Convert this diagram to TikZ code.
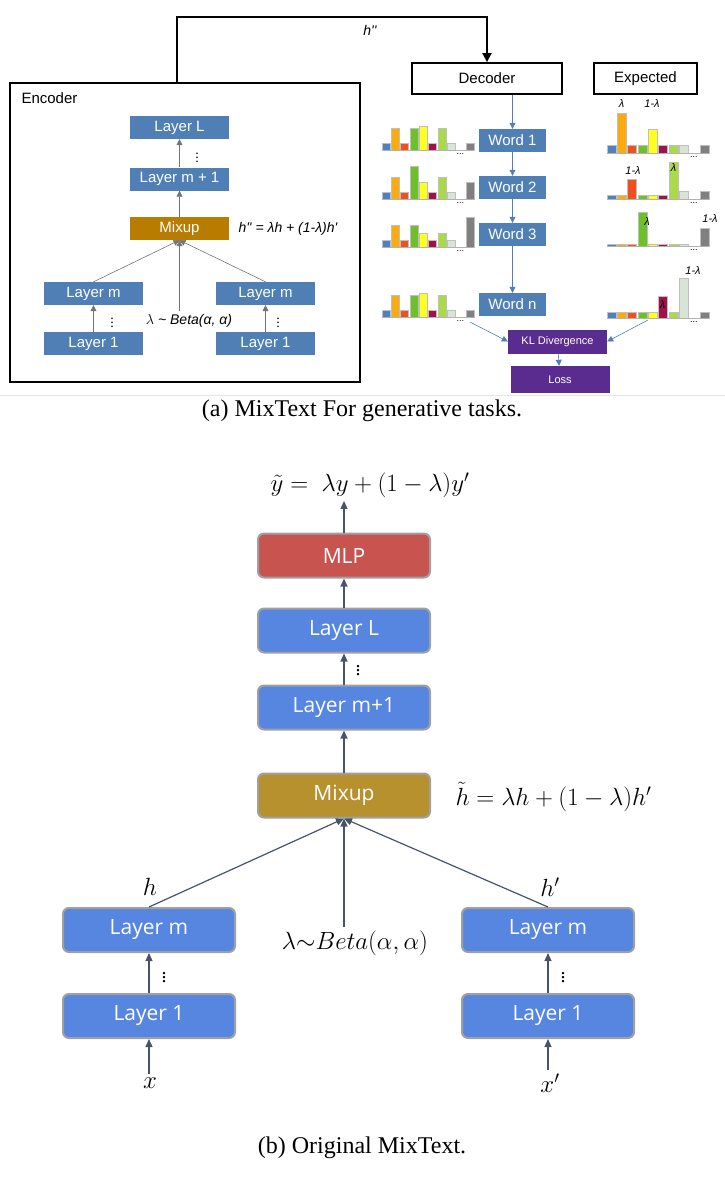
\documentclass[tikz,border=0pt]{standalone}
\usepackage{fontspec}
\setmainfont{Liberation Serif}
\newfontfamily\sansA{Liberation Sans}
\newfontfamily\sansB{Open Sans}
\usepackage{amsmath}
\usetikzlibrary{arrows.meta, positioning}

\definecolor{boxblue}{HTML}{4F7FB4}
\definecolor{mixgold}{HTML}{B77C00}
\definecolor{klpurple}{HTML}{5B2C8F}
\definecolor{newblue}{HTML}{5686E0}
\definecolor{newred}{HTML}{C85450}
\definecolor{newgold}{HTML}{B8912F}
\definecolor{edgegray}{HTML}{A0A0A0}
\definecolor{arrowslate}{HTML}{46546A}
\definecolor{bar0}{HTML}{4F81BD}
\definecolor{bar1}{HTML}{F9AB10}
\definecolor{bar2}{HTML}{F0501E}
\definecolor{bar3}{HTML}{6DC025}
\definecolor{bar4}{HTML}{FFFF20}
\definecolor{bar5}{HTML}{A0104A}
\definecolor{bar6}{HTML}{AAD94A}
\definecolor{bar7}{HTML}{D8E4D5}
\definecolor{bar8}{HTML}{808080}

% one row of bars: x0, baseline, step, width, heights
\newcommand\barrow[5]{%
  \foreach \h [count=\i from 0] in {#5} {
    \pgfmathsetmacro\s{\i<8 ? \i : 9}
    \fill [bar\i, draw=black!25, line width=0.3pt]
      (#1+\s*#3, #2) rectangle ++(#4, -\h);
  }
  \draw [black!30] (#1, #2) -- ++(9*#3+#4, 0);
  \node [font=\sansA\fontsize{9}{9}\selectfont, anchor=north]
    at (#1+8*#3+#4/2, #2) {...};
}

\begin{document}
\begin{tikzpicture}[x=1pt, y=-1pt,
  oldbox/.style={fill=boxblue, text=white, inner sep=0pt,
    minimum width=99pt, minimum height=23pt, font=\sansA\fontsize{15}{15}\selectfont},
  wordbox/.style={oldbox, minimum width=67pt},
  purplebox/.style={fill=klpurple, text=white, inner sep=0pt,
    minimum width=99pt, minimum height=24pt, font=\sansA\fontsize{11}{11}\selectfont},
  headbox/.style={draw=black, line width=1.8pt, inner sep=0pt,
    minimum height=31pt, font=\sansA\fontsize{15}{15}\selectfont},
  newbox/.style={fill=newblue, draw=edgegray, line width=2pt, rounded corners=6pt,
    text=white, inner sep=0pt, minimum width=172pt, minimum height=44pt,
    font=\sansB\fontsize{21}{21}\selectfont},
  oldarrow/.style={-{Triangle[length=6pt, width=6pt]}, black!55, line width=0.6pt},
  decarrow/.style={-{Triangle[length=6pt, width=6pt]}, boxblue, line width=0.6pt},
  newarrow/.style={-{Triangle[length=8pt, width=7pt]}, arrowslate, line width=1.2pt},
  vdots/.style={font=\fontsize{14}{14}\selectfont}]
\useasboundingbox (0,0) rectangle (725,1179);

%the encoder
\draw [line width=1.8pt] (10,83) rectangle (360,382);
\node [anchor=west, font=\sansA\fontsize{15}{15}\selectfont] (enc) at (18,98) {Encoder};
\node [oldbox] (eL) at (179.5,127.5) {Layer L};
\node [oldbox] (eM1) at (179.5,179) {Layer m + 1};
\node [oldbox, fill=mixgold] (eMix) at (179.5,228.5) {Mixup};
\node [oldbox] (eMa) at (93.5,293.5) {Layer m};
\node [oldbox] (e1a) at (93.5,343.5) {Layer 1};
\node [oldbox] (eMb) at (265.5,293.5) {Layer m};
\node [oldbox] (e1b) at (265.5,343.5) {Layer 1};
\node [vdots] at (197,155) {$\vdots$};
\node [vdots] at (112,320) {$\vdots$};
\node [vdots] at (278,320) {$\vdots$};
\node [font=\sansA\itshape\fontsize{14}{14}\selectfont] (eBeta) at (189,321) {$\lambda$ \textasciitilde{} Beta(α, α)};
\node [anchor=west, font=\sansA\itshape\fontsize{14}{14}\selectfont] (eForm) at (235,229) {h'' = λh + (1-λ)h'};
\draw [oldarrow] (eM1) -- (eL);
\draw [oldarrow] (eMix) -- (eM1);
\draw [oldarrow] (e1a) -- (eMa);
\draw [oldarrow] (e1b) -- (eMb);
\draw [oldarrow] (eMa.north) -- (eMix.south);
\draw [oldarrow] (eMb.north) -- (eMix.south);
\draw [oldarrow] (eBeta.north -| eMix.south) -- (eMix.south);

%the decoder
\node [headbox, minimum width=150pt] (dec) at (487,78.5) {Decoder};
\node [headbox, minimum width=103pt] (exp) at (645.5,78.5) {Expected};
\coordinate (hTop) at (177,17);
\draw [line width=1.8pt, -{Triangle[length=9pt, width=9pt]}]
  (177,83) -- (hTop) -| (dec.north);
\node [font=\sansA\itshape\fontsize{14}{14}\selectfont] at (370,30) {h''};
\node [wordbox] (w1) at (512.5,140.5) {Word 1};
\node [wordbox] (w2) at (512.5,187.5) {Word 2};
\node [wordbox] (w3) at (512.5,234.5) {Word 3};
\node [wordbox] (wn) at (512.5,304.5) {Word n};
\draw [decarrow] (dec.south -| w1) -- (w1);
\draw [decarrow] (w1) -- (w2);
\draw [decarrow] (w2) -- (w3);
\draw [decarrow] (w3) -- (wn);
\node [purplebox] (kl) at (557.5,341.5) {KL Divergence};
\node [purplebox, minimum height=27pt] (loss) at (560,379.5) {Loss};
\coordinate (outL) at (470,322);
\coordinate (outR) at (648,320);
\draw [decarrow] (outL) -- (kl.west);
\draw [decarrow] (outR) -- (kl.east);
\draw [decarrow] (kl) -- (loss);

%the bars
\barrow{382}{150}{9.3}{8}{7,22,7,22,24,7,22,7,7}
\barrow{382}{199}{9.3}{8}{7,22,7,33,17,7,22,7,17}
\barrow{382}{247}{9.3}{8}{7,22,7,22,14,7,14,7,30}
\barrow{382}{317}{9.3}{8}{7,22,7,22,24,7,22,7,7}
\barrow{607}{153}{10.3}{9}{8,40,8,8,24,8,8,8,8}
\barrow{607}{199}{10.3}{9}{4,4,20,4,4,4,37,8,8}
\barrow{607}{246}{10.3}{9}{2,2,2,34,2,2,2,2,18}
\barrow{607}{318}{10.3}{9}{6,6,6,6,6,22,6,40,6}
\begin{scope}[font=\sansA\itshape\fontsize{11}{11}\selectfont]
\node at (621.5,104) {λ};
\node at (652,104) {1-λ};
\node at (633,171) {1-λ};
\node at (673.5,168) {λ};
\node at (647,222) {λ};
\node at (710,219) {1-λ};
\node at (662.5,305) {λ};
\node at (693,271) {1-λ};
\end{scope}
\draw [black!10] (0,395) -- (725,395);
\node [font=\fontsize{24}{24}\selectfont] at (362,411) {(a) MixText For generative tasks.};

%the original mixtext
\node [font=\fontsize{26}{26}\selectfont] (yForm) at (370,485) {$\tilde{y} =\ \lambda y + (1-\lambda)y'$};
\node [newbox, fill=newred] (mlp) at (344,555.5) {MLP};
\node [newbox] (nL) at (344,630.5) {Layer L};
\node [newbox] (nM1) at (344,707.5) {Layer m+1};
\node [newbox, fill=newgold] (nMix) at (344,795.5) {Mixup};
\node [anchor=west, font=\fontsize{26}{26}\selectfont] (hForm) at (452,797) {$\tilde{h} = \lambda h + (1-\lambda)h'$};
\node [newbox] (nMa) at (149,930) {Layer m};
\node [newbox] (n1a) at (149,1016) {Layer 1};
\node [newbox] (nMb) at (548,930) {Layer m};
\node [newbox] (n1b) at (548,1016) {Layer 1};
\node [font=\fontsize{25}{25}\selectfont] (hA) at (150,887) {$h$};
\node [font=\fontsize{25}{25}\selectfont] (hB) at (550,887) {$h'$};
\node [font=\fontsize{25}{25}\selectfont] (xA) at (150,1083) {$x$};
\node [font=\fontsize{25}{25}\selectfont] (xB) at (550,1083) {$x'$};
\node [font=\fontsize{26}{26}\selectfont] (nBeta) at (355,943) {$\lambda{\sim}Beta(\alpha,\alpha)$};
\node [vdots, font=\fontsize{20}{20}\selectfont] at (358,668) {$\vdots$};
\node [vdots, font=\fontsize{20}{20}\selectfont] at (164,975) {$\vdots$};
\node [vdots, font=\fontsize{20}{20}\selectfont] at (563,975) {$\vdots$};
\draw [newarrow] (mlp) -- (yForm.south -| mlp);
\draw [newarrow] (nL) -- (mlp);
\draw [newarrow] (nM1) -- (nL);
\draw [newarrow] (nMix) -- (nM1);
\draw [newarrow] (n1a) -- (nMa);
\draw [newarrow] (n1b) -- (nMb);
\draw [newarrow] (xA.north -| n1a) -- (n1a);
\draw [newarrow] (xB.north -| n1b) -- (n1b);
\draw [newarrow] (nMa.north) -- (nMix.south);
\draw [newarrow] (nMb.north) -- (nMix.south);
\draw [newarrow] (nBeta.north -| nMix.south) -- (nMix.south);
\node [font=\fontsize{24}{24}\selectfont] at (362,1148) {(b) Original MixText.};
\end{tikzpicture}
\end{document}
